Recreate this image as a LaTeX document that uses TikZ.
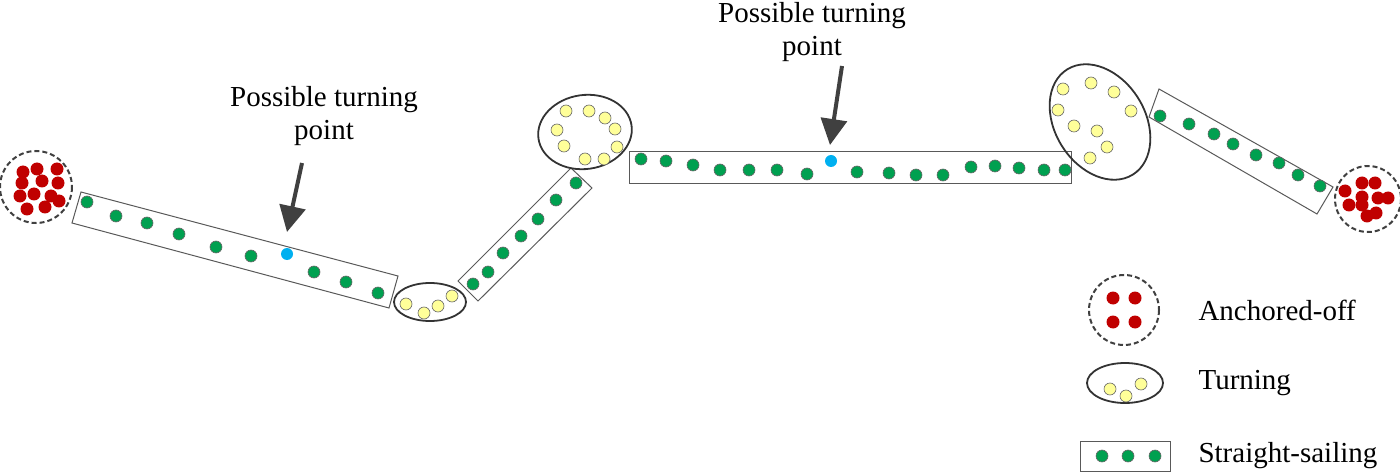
\documentclass[tikz,border=0pt]{standalone}
\usepackage{fontspec}
\setmainfont{Liberation Serif}
\usetikzlibrary{arrows.meta,positioning}
\definecolor{anchred}{HTML}{C00000}
\definecolor{sailgreen}{HTML}{00A050}
\definecolor{turnyellow}{HTML}{FFFF99}
\definecolor{tpblue}{HTML}{00B0F0}
\tikzset{
    anchor dot/.style={circle, fill=anchred, inner sep=0pt, minimum size=13pt},
    turn dot/.style={circle, draw=black!60, fill=turnyellow, inner sep=0pt, minimum size=12pt, line width=0.6pt},
    sail dot/.style={circle, draw=black!60, fill=sailgreen, inner sep=0pt, minimum size=12pt, line width=0.6pt},
    tp dot/.style={circle, fill=tpblue, inner sep=0pt, minimum size=12pt},
    anchor ring/.style={draw=black!75, dashed, line width=2pt, dash pattern=on 5pt off 3pt},
    turn ring/.style={draw=black!80, line width=1.8pt},
    sail box/.style={draw=black!65, line width=1pt},
    label text/.style={font=\fontsize{29}{33}\selectfont, align=center},
    tp arrow/.style={draw=black!75, line width=4pt, -{Triangle[length=26pt,width=26pt]}}
}
\begin{document}
\begin{tikzpicture}[x=1pt, y=-1pt]
    \useasboundingbox (0,0) rectangle (1400,473);

    % anchored-off clusters
    \draw[anchor ring] (36,187) circle (36);
    \foreach \x/\y [count=\i] in {23/172,37/169,57/169,22/183,42/181,58/183,20/196,34/194,51/196,59/201,27/209,45/207}
        \node[anchor dot] (startA-\i) at (\x,\y) {};
    \draw[anchor ring] (1368,199) circle (33);
    \foreach \x/\y [count=\i] in {1345/191,1362/183,1375/183,1362/197,1378/198,1388/198,1349/205,1362/205,1367/216,1376/213}
        \node[anchor dot] (endA-\i) at (\x,\y) {};

    % straight-sailing legs
    \draw[sail box] (81,192) -- (398,276) -- (389,308) -- (72,223) -- cycle;
    \foreach \x/\y [count=\i] in {87/202,116/216,147/223,179/234,216/247,251/256,314/272,346/282,378/293}
        \node[sail dot] (legA-\i) at (\x,\y) {};
    \node[tp dot] (tpA) at (287,254) {};

    \draw[sail box] (458,281) -- (571,168) -- (592,188) -- (478,301) -- cycle;
    \foreach \x/\y [count=\i] in {473/284,488/272,503/253,521/236,538/219,556/200,576/183}
        \node[sail dot] (legB-\i) at (\x,\y) {};

    \draw[sail box] (629,152) rectangle (1071,184);
    \foreach \x/\y [count=\i] in {641/159,666/161,693/165,720/170,749/170,777/170,807/174,857/172,889/173,916/175,943/175,971/167,995/166,1019/168,1044/170,1065/170}
        \node[sail dot] (legC-\i) at (\x,\y) {};
    \node[tp dot] (tpB) at (831,161) {};

    \draw[sail box] (1159,89) -- (1333,187) -- (1317,214) -- (1149,117) -- cycle;
    \foreach \x/\y [count=\i] in {1160/116,1189/124,1214/134,1233/144,1256/155,1279/163,1298/175,1320/186}
        \node[sail dot] (legD-\i) at (\x,\y) {};

    % turning areas
    \draw[turn ring] (430,302) ellipse [x radius=36, y radius=19];
    \foreach \x/\y [count=\i] in {406/304,424/313,438/306,452/296}
        \node[turn dot] (turnA-\i) at (\x,\y) {};
    \draw[turn ring, rotate around={8:(585,132)}] (585,132) ellipse [x radius=47, y radius=37];
    \foreach \x/\y [count=\i] in {566/111,589/111,605/118,615/129,557/130,564/146,617/147,585/159,604/159}
        \node[turn dot] (turnB-\i) at (\x,\y) {};
    \draw[turn ring, rotate around={-58:(1100,122)}] (1100,122) ellipse [x radius=62, y radius=45];
    \foreach \x/\y [count=\i] in {1063/89,1091/83,1114/92,1131/111,1058/110,1074/126,1097/131,1107/147,1090/158}
        \node[turn dot] (turnC-\i) at (\x,\y) {};

    % turning point labels
    \node[label text] (tpA label) at (324,116) {Possible turning\\point};
    \coordinate (tpA start) at (302,163);
    \coordinate (tpA tip) at (287,232);
    \draw[tp arrow] (tpA start) -- (tpA tip);
    \node[label text] (tpB label) at (812,32) {Possible turning\\point};
    \coordinate (tpB start) at (842,66);
    \coordinate (tpB tip) at (830,145);
    \draw[tp arrow] (tpB start) -- (tpB tip);

    % legend
    \draw[anchor ring] (1124,310) circle (35);
    \foreach \x/\y [count=\i] in {1113/298,1135/298,1113/322,1135/322}
        \node[anchor dot] (keyA-\i) at (\x,\y) {};
    \node[label text, anchor=west] (keyA text) at (1195,310) {Anchored-off};
    \draw[turn ring] (1125,383) ellipse [x radius=38, y radius=20];
    \foreach \x/\y [count=\i] in {1110/389,1126/396,1141/384}
        \node[turn dot] (keyT-\i) at (\x,\y) {};
    \node[label text, anchor=west] (keyT text) at (1195,383) {Turning};
    \draw[sail box] (1080,441) rectangle (1170,471);
    \foreach \x [count=\i] in {1102,1128,1155}
        \node[sail dot] (keyS-\i) at (\x,456) {};
    \node[label text, anchor=west] (keyS text) at (1195,456) {Straight-sailing};
\end{tikzpicture}
\end{document}
